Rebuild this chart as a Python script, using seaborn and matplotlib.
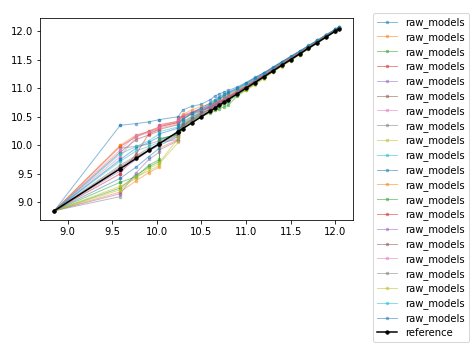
import matplotlib
matplotlib.use("Agg")
import matplotlib.pyplot as plt
import seaborn as sns

# shared x positions (sorted targets) and the reference curve
x_vals = [8.85, 9.59, 9.59, 9.77, 9.91, 10.03, 10.03, 10.24, 10.24, 10.29, 10.39, 10.50,
          10.60, 10.65, 10.70, 10.75, 10.80, 10.90, 11.00, 11.10, 11.20, 11.30, 11.40,
          11.50, 11.60, 11.70, 11.80, 11.90, 12.00, 12.04]
reference = [8.85, 9.59, 9.59, 9.77, 9.91, 10.03, 10.03, 10.24, 10.24, 10.29, 10.39, 10.50,
             10.60, 10.65, 10.70, 10.75, 10.80, 10.90, 11.00, 11.10, 11.20, 11.30, 11.40,
             11.50, 11.60, 11.70, 11.80, 11.90, 12.00, 12.04]

raw_models = [
    [8.85, 10.35, 10.35, 10.38, 10.41, 10.45, 10.45, 10.50, 10.50, 10.62, 10.68, 10.72,
     10.80, 10.86, 10.90, 10.93, 10.96, 11.02, 11.10, 11.19, 11.27, 11.36, 11.46,
     11.55, 11.64, 11.73, 11.83, 11.93, 12.03, 12.07],
    [8.85, 9.18, 9.18, 9.38, 9.52, 9.62, 9.95, 10.10, 10.30, 10.42, 10.50, 10.56,
     10.63, 10.68, 10.74, 10.79, 10.84, 10.93, 11.02, 11.12, 11.22, 11.33, 11.43,
     11.53, 11.64, 11.73, 11.82, 11.92, 12.02, 12.06],
    [8.85, 9.25, 9.25, 9.48, 9.62, 9.72, 10.12, 10.18, 10.22, 10.32, 10.42, 10.50,
     10.57, 10.61, 10.64, 10.67, 10.70, 10.86, 10.97, 11.08, 11.19, 11.29, 11.39,
     11.49, 11.59, 11.69, 11.79, 11.89, 11.99, 12.04],
    [8.85, 9.98, 9.98, 10.15, 10.25, 10.32, 10.36, 10.42, 10.46, 10.52, 10.58, 10.64,
     10.70, 10.74, 10.78, 10.82, 10.86, 10.95, 11.04, 11.14, 11.24, 11.34, 11.44,
     11.54, 11.63, 11.73, 11.83, 11.93, 12.02, 12.06],
    [8.85, 9.15, 9.15, 9.52, 9.75, 9.88, 9.92, 10.08, 10.15, 10.28, 10.40, 10.52,
     10.61, 10.66, 10.72, 10.77, 10.82, 10.92, 11.02, 11.11, 11.21, 11.31, 11.41,
     11.51, 11.61, 11.71, 11.81, 11.91, 12.01, 12.05],
    [8.85, 9.88, 9.88, 10.10, 10.18, 10.25, 10.28, 10.36, 10.40, 10.46, 10.54, 10.60,
     10.67, 10.71, 10.75, 10.79, 10.84, 10.93, 11.03, 11.13, 11.22, 11.32, 11.42,
     11.52, 11.62, 11.72, 11.82, 11.92, 12.01, 12.05],
    [8.85, 9.80, 9.80, 10.15, 10.22, 10.28, 10.30, 10.38, 10.42, 10.48, 10.55, 10.61,
     10.68, 10.72, 10.76, 10.80, 10.84, 10.94, 11.03, 11.13, 11.23, 11.33, 11.43,
     11.52, 11.62, 11.72, 11.82, 11.92, 12.02, 12.06],
    [8.85, 9.10, 9.95, 9.98, 10.02, 10.08, 10.10, 10.20, 10.25, 10.35, 10.44, 10.53,
     10.62, 10.67, 10.72, 10.76, 10.81, 10.91, 11.01, 11.11, 11.21, 11.31, 11.41,
     11.51, 11.61, 11.71, 11.81, 11.91, 12.01, 12.05],
    [8.85, 9.28, 9.28, 9.42, 9.60, 9.68, 9.70, 10.12, 10.20, 10.30, 10.42, 10.51,
     10.60, 10.65, 10.70, 10.75, 10.80, 10.89, 10.97, 11.07, 11.18, 11.29, 11.39,
     11.49, 11.59, 11.70, 11.80, 11.90, 12.00, 12.04],
    [8.85, 9.72, 9.72, 9.90, 9.98, 10.05, 10.08, 10.22, 10.30, 10.40, 10.50, 10.60,
     10.70, 10.76, 10.82, 10.86, 10.90, 10.97, 11.06, 11.15, 11.25, 11.35, 11.45,
     11.54, 11.64, 11.74, 11.83, 11.93, 12.02, 12.06],
    [8.85, 9.42, 9.42, 9.62, 9.80, 9.95, 10.00, 10.15, 10.25, 10.38, 10.48, 10.58,
     10.68, 10.75, 10.81, 10.86, 10.92, 10.99, 11.08, 11.17, 11.26, 11.36, 11.46,
     11.55, 11.65, 11.74, 11.84, 11.93, 12.03, 12.07],
    [8.85, 10.00, 10.00, 10.18, 10.24, 10.30, 10.32, 10.40, 10.45, 10.54, 10.62, 10.68,
     10.72, 10.76, 10.80, 10.84, 10.88, 10.96, 11.05, 11.14, 11.24, 11.34, 11.44,
     11.55, 11.64, 11.74, 11.84, 11.94, 12.03, 12.07],
    [8.85, 9.35, 9.35, 9.45, 9.65, 9.75, 10.10, 10.20, 10.26, 10.34, 10.44, 10.52,
     10.60, 10.64, 10.68, 10.72, 10.76, 10.88, 10.99, 11.09, 11.19, 11.30, 11.40,
     11.50, 11.60, 11.70, 11.80, 11.90, 12.00, 12.04],
    [8.85, 9.50, 9.50, 9.85, 10.20, 10.28, 10.33, 10.40, 10.44, 10.50, 10.56, 10.62,
     10.68, 10.72, 10.76, 10.80, 10.85, 10.94, 11.03, 11.13, 11.23, 11.33, 11.43,
     11.53, 11.63, 11.72, 11.82, 11.92, 12.02, 12.06],
    [8.85, 9.55, 9.55, 9.75, 9.90, 10.00, 10.05, 10.10, 10.20, 10.32, 10.44, 10.55,
     10.64, 10.69, 10.74, 10.78, 10.83, 10.92, 11.02, 11.12, 11.22, 11.32, 11.42,
     11.52, 11.62, 11.72, 11.81, 11.91, 12.01, 12.05],
    [8.85, 9.62, 9.62, 9.80, 9.92, 10.02, 10.06, 10.18, 10.26, 10.36, 10.46, 10.56,
     10.65, 10.70, 10.75, 10.79, 10.83, 10.93, 11.02, 11.12, 11.22, 11.32, 11.42,
     11.52, 11.62, 11.72, 11.82, 11.92, 12.01, 12.05],
    [8.85, 9.92, 9.92, 10.18, 10.23, 10.30, 10.34, 10.42, 10.46, 10.52, 10.58, 10.63,
     10.69, 10.73, 10.77, 10.81, 10.85, 10.94, 11.04, 11.14, 11.24, 11.33, 11.43,
     11.53, 11.63, 11.73, 11.83, 11.93, 12.02, 12.06],
    [8.85, 9.65, 9.65, 9.82, 9.95, 10.00, 10.04, 10.16, 10.22, 10.34, 10.45, 10.55,
     10.64, 10.69, 10.74, 10.78, 10.82, 10.92, 11.01, 11.11, 11.21, 11.31, 11.41,
     11.51, 11.61, 11.71, 11.81, 11.91, 12.01, 12.05],
    [8.85, 9.22, 9.22, 9.45, 9.55, 9.65, 9.68, 10.05, 10.15, 10.28, 10.40, 10.50,
     10.59, 10.64, 10.69, 10.74, 10.79, 10.88, 10.96, 11.06, 11.17, 11.28, 11.38,
     11.48, 11.59, 11.69, 11.79, 11.89, 12.00, 12.04],
    [8.85, 9.85, 9.85, 9.98, 10.08, 10.20, 10.24, 10.32, 10.38, 10.46, 10.55, 10.64,
     10.72, 10.78, 10.83, 10.87, 10.91, 10.98, 11.07, 11.16, 11.26, 11.35, 11.45,
     11.55, 11.64, 11.74, 11.84, 11.93, 12.03, 12.07],
    [8.85, 9.75, 9.75, 9.95, 10.05, 10.15, 10.20, 10.30, 10.36, 10.45, 10.56, 10.66,
     10.74, 10.80, 10.85, 10.89, 10.93, 11.00, 11.09, 11.18, 11.27, 11.37, 11.46,
     11.56, 11.65, 11.75, 11.84, 11.94, 12.03, 12.07],
]

W, H, DPI = 474, 353, 72
fig = plt.figure(figsize=(W / DPI, H / DPI), dpi=DPI)
ax = fig.add_axes([40 / W, 1 - 220 / H, 313 / W, 202 / H])

colors = sns.color_palette("tab10")
for i, vals in enumerate(raw_models):
    c = colors[i % 10]
    sns.lineplot(x=x_vals, y=vals, ax=ax, color=c, alpha=0.5, lw=1,
                 marker=".", markersize=6, markeredgecolor=c, markeredgewidth=0.5,
                 estimator=None, sort=False, label="raw_models")

sns.lineplot(x=x_vals, y=reference, ax=ax, color="black", lw=1.5,
             marker=".", markersize=7, markeredgecolor="black",
             estimator=None, sort=False, label="reference")

ax.legend(loc="upper left", bbox_to_anchor=(373 / W, 1 - 13 / H),
          bbox_transform=fig.transFigure, borderaxespad=0, labelspacing=0.39)

fig.savefig("out.png", dpi=DPI)
plt.close(fig)
